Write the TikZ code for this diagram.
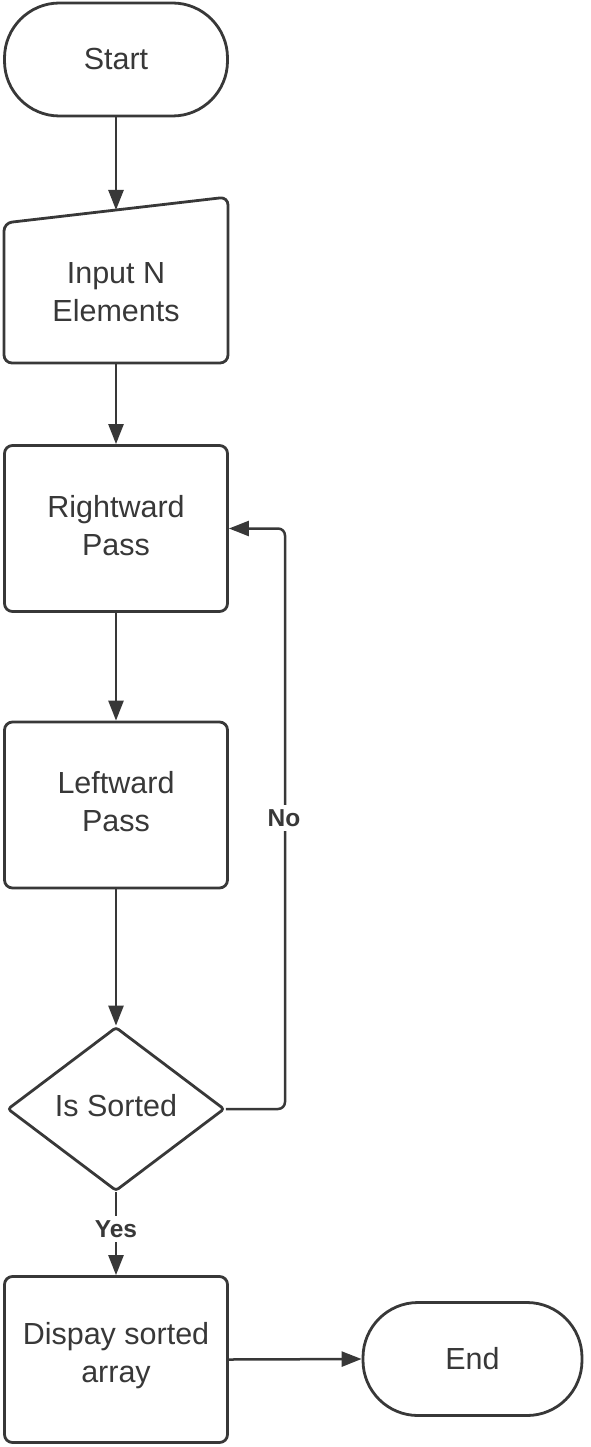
\documentclass[tikz,border=0pt]{standalone}
\usepackage{fontspec}
\setmainfont{Liberation Sans}
\usetikzlibrary{arrows.meta,shapes.geometric}
\definecolor{ink}{HTML}{383838}
\begin{document}
\begin{tikzpicture}[x=1pt,y=-1pt,
  line width=2.8pt, draw=ink, text=ink,
  every node/.style={font=\fontsize{30.5}{38}\selectfont, align=center, inner sep=0pt},
  stadium/.style={draw, rectangle, rounded corners=55pt, minimum width=223pt, minimum height=113pt},
  procbox/.style={draw, rectangle, rounded corners=8pt, minimum width=223pt, minimum height=166pt},
  decision/.style={draw, diamond, rounded corners=3pt, minimum width=217pt, minimum height=164pt},
  flow/.style={draw=ink, line width=2.5pt, -{Triangle[length=20pt,width=15pt]}},
  lbl/.style={font=\fontsize{24.5}{26}\bfseries\selectfont, fill=white, inner sep=4pt}
]
\useasboundingbox (0,0) rectangle (591,1447);
% nodes
\node[stadium] (start) at (116,59.5) {\raisebox{2pt}{Start}};
\draw[rounded corners=8pt] (4,223) -- (228,197) -- (228,363) -- (4,363) -- cycle;
\node (input) at (116,292) {Input N\\Elements};
\coordinate (intop) at (116,210);
\coordinate (inbot) at (116,363);
\node[procbox] (rpass) at (116,528.5) {};
\node (rpasstext) at (116,526) {Rightward\\Pass};
\node[procbox] (lpass) at (116,805) {};
\node (lpasstext) at (116,802) {Leftward\\Pass};
\node[decision] (dec) at (116,1109) {};
\node (dectext) at (116,1106) {Is Sorted};
\node[procbox] (disp) at (116,1359.5) {};
\node (disptext) at (116,1356) {Dispay sorted\\array};
\node[stadium, minimum width=219pt] (end) at (472.5,1359) {\raisebox{2pt}{End}};
\coordinate (loopbot) at (285,1109);
\coordinate (looptop) at (285,528.5);
% connectors
\draw[flow] (start.south) -- (intop);
\draw[flow] (inbot) -- (rpass.north);
\draw[flow] (rpass.south) -- (lpass.north);
\draw[flow] (lpass.south) -- (dec.north);
\draw[flow] (dec.south) -- (disp.north);
\draw[flow, rounded corners=7pt] (dec.east) -- (loopbot) -- (looptop) -- (rpass.east);
\draw[flow] (disp.east) -- (end.west);
% labels
\node[lbl] (no) at (284,818) {No};
\node[lbl] (yes) at (116,1229) {Yes};
\end{tikzpicture}
\end{document}
